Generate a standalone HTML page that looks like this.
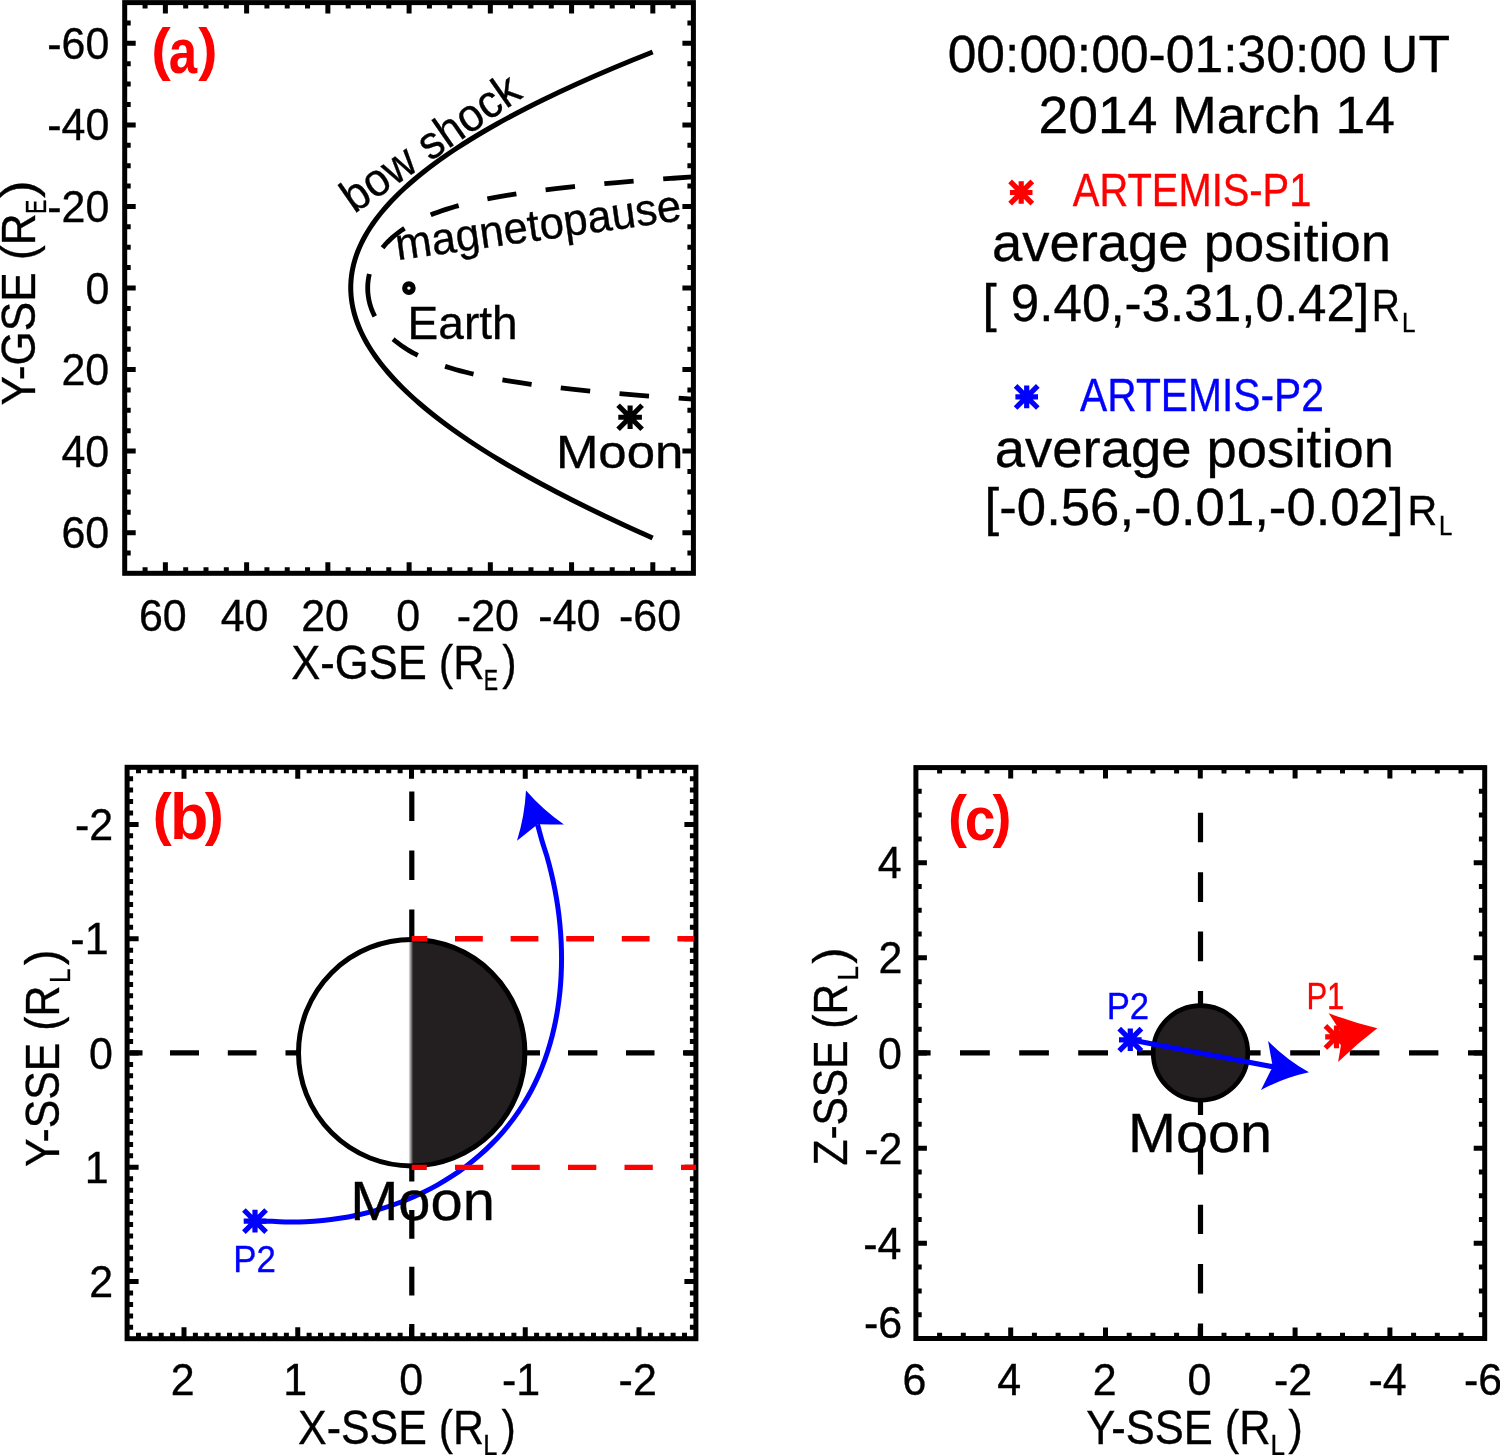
<!DOCTYPE html>
<html lang="en"><head><meta charset="utf-8"><title>ARTEMIS P1/P2 positions, 2014 March 14</title>
<style>
html,body{margin:0;padding:0;background:#fff}
svg{display:block}
text{font-family:"Liberation Sans", "Noto Sans CJK SC", sans-serif;white-space:pre;fill:#000;stroke:#000;stroke-width:0.35px}
text.r{fill:#f00;stroke:#f00}
text.b{fill:#00f;stroke:#00f}
text.rb{fill:#f00;stroke:none}
</style></head>
<body>
<svg width="1500" height="1455" viewBox="0 0 1500 1455">
<rect width="1500" height="1455" fill="#fff"/>
<!-- panel a -->
<path d="M652.65 52C649.33 53.33 639.25 57.33 632.7 60C626.16 62.67 619.72 65.33 613.4 68C607.07 70.67 600.85 73.33 594.74 76C588.63 78.67 582.63 81.33 576.74 84C570.86 86.67 565.08 89.33 559.41 92C553.74 94.67 548.19 97.33 542.74 100C537.3 102.67 531.97 105.33 526.75 108C521.53 110.67 516.42 113.33 511.43 116C506.44 118.67 501.56 121.33 496.8 124C492.03 126.67 487.38 129.33 482.85 132C478.31 134.67 473.9 137.33 469.59 140C465.29 142.67 461.1 145.33 457.03 148C452.95 150.67 449 153.33 445.16 156C441.32 158.67 437.6 161.33 433.99 164C430.38 166.67 426.89 169.33 423.52 172C420.15 174.67 416.89 177.33 413.76 180C410.62 182.67 407.6 185.33 404.69 188C401.79 190.67 399.01 193.33 396.34 196C393.67 198.67 391.12 201.33 388.69 204C386.26 206.67 383.94 209.33 381.74 212C379.55 214.67 377.47 217.33 375.5 220C373.54 222.67 371.7 225.33 369.97 228C368.24 230.67 366.63 233.33 365.14 236C363.65 238.67 362.27 241.33 361.01 244C359.75 246.67 358.61 249.33 357.58 252C356.56 254.67 355.65 257.33 354.85 260C354.06 262.67 353.38 265.33 352.82 268C352.25 270.67 351.8 273.33 351.47 276C351.14 278.67 350.92 281.33 350.81 284C350.71 286.67 350.72 289.33 350.84 292C350.97 294.67 351.2 297.33 351.55 300C351.9 302.67 352.36 305.33 352.93 308C353.51 310.67 354.19 313.33 354.99 316C355.78 318.67 356.69 321.33 357.71 324C358.73 326.67 359.85 329.33 361.09 332C362.32 334.67 363.67 337.33 365.12 340C366.57 342.67 368.13 345.33 369.8 348C371.47 350.67 373.24 353.33 375.12 356C377 358.67 378.99 361.33 381.08 364C383.17 366.67 385.37 369.33 387.67 372C389.96 374.67 392.37 377.33 394.87 380C397.37 382.67 399.98 385.33 402.69 388C405.4 390.67 408.21 393.33 411.11 396C414.02 398.67 417.03 401.33 420.14 404C423.24 406.67 426.45 409.33 429.75 412C433.05 414.67 436.45 417.33 439.95 420C443.44 422.67 447.03 425.33 450.72 428C454.4 430.67 458.18 433.33 462.06 436C465.93 438.67 469.89 441.33 473.95 444C478.01 446.67 482.16 449.33 486.4 452C490.64 454.67 494.97 457.33 499.38 460C503.8 462.67 508.31 465.33 512.9 468C517.5 470.67 522.18 473.33 526.95 476C531.71 478.67 536.57 481.33 541.51 484C546.45 486.67 551.47 489.33 556.58 492C561.68 494.67 566.87 497.33 572.14 500C577.41 502.67 582.77 505.33 588.2 508C593.63 510.67 599.15 513.33 604.74 516C610.33 518.67 616 521.33 621.75 524C627.5 526.67 634.08 529.67 639.23 532C644.38 534.33 650.4 537 652.64 538" stroke="#000" stroke-width="5" fill="none"/>
<path d="M367.71 288C367.71 287.73 367.72 286.93 367.73 286.39C367.74 285.86 367.77 285.32 367.8 284.79C367.82 284.25 367.86 283.71 367.9 283.18C367.95 282.64 368 282.11 368.06 281.57C368.12 281.04 368.18 280.5 368.25 279.97C368.33 279.43 368.41 278.9 368.5 278.37C368.58 277.83 368.68 277.3 368.78 276.76C368.88 276.23 368.99 275.7 369.11 275.16C369.23 274.63 369.35 274.1 369.48 273.57C369.62 273.03 369.76 272.5 369.9 271.97C370.05 271.44 370.21 270.91 370.37 270.38C370.53 269.85 370.7 269.32 370.88 268.79C371.06 268.26 371.24 267.73 371.44 267.2C371.63 266.68 371.83 266.15 372.04 265.62C372.25 265.09 372.47 264.57 372.69 264.04C372.92 263.52 373.15 262.99 373.39 262.47C373.63 261.94 373.88 261.42 374.14 260.89C374.39 260.37 374.66 259.85 374.93 259.33C375.21 258.81 375.49 258.29 375.78 257.77C376.07 257.25 376.37 256.73 376.68 256.21C376.98 255.69 377.3 255.17 377.63 254.66C377.95 254.14 378.28 253.62 378.63 253.11C378.97 252.59 379.32 252.08 379.68 251.57C380.04 251.05 380.41 250.54 380.79 250.03C381.17 249.52 381.56 249.01 381.96 248.5C382.36 247.99 382.77 247.48 383.19 246.97C383.61 246.47 384.03 245.96 384.47 245.45C384.91 244.95 385.36 244.44 385.82 243.94C386.28 243.44 386.75 242.94 387.23 242.43C387.71 241.93 388.2 241.43 388.7 240.93C389.2 240.44 389.72 239.94 390.24 239.44C390.77 238.94 391.31 238.45 391.85 237.95C392.4 237.46 392.96 236.96 393.54 236.47C394.11 235.98 394.7 235.49 395.3 235C395.9 234.51 396.51 234.02 397.14 233.53C397.76 233.04 398.4 232.55 399.06 232.07C399.71 231.58 400.38 231.09 401.06 230.61C401.75 230.13 402.45 229.64 403.16 229.16C403.88 228.68 404.61 228.2 405.35 227.72C406.1 227.24 406.87 226.76 407.65 226.28C408.43 225.8 409.23 225.33 410.05 224.85C410.87 224.37 411.7 223.9 412.56 223.42C413.42 222.95 414.29 222.48 415.19 222C416.09 221.53 417.01 221.06 417.95 220.59C418.9 220.12 419.86 219.64 420.85 219.17C421.84 218.71 422.86 218.24 423.9 217.77C424.94 217.3 426.01 216.83 427.1 216.36C428.2 215.9 429.32 215.43 430.48 214.96C431.64 214.49 432.82 214.03 434.04 213.56C435.26 213.09 436.52 212.63 437.81 212.16C439.1 211.7 440.43 211.23 441.8 210.76C443.17 210.3 444.57 209.83 446.03 209.36C447.48 208.9 448.98 208.43 450.53 207.96C452.08 207.49 453.67 207.02 455.32 206.56C456.98 206.09 458.68 205.62 460.45 205.14C462.22 204.67 464.05 204.2 465.95 203.72C467.85 203.25 469.81 202.77 471.86 202.29C473.91 201.82 476.03 201.34 478.24 200.85C480.46 200.37 482.75 199.89 485.16 199.4C487.57 198.91 490.06 198.42 492.68 197.92C495.31 197.42 498.04 196.93 500.92 196.42C503.8 195.92 506.79 195.41 509.96 194.89C513.14 194.38 516.45 193.86 519.97 193.33C523.49 192.81 527.17 192.28 531.11 191.73C535.04 191.19 539.16 190.64 543.59 190.08C548.03 189.52 552.67 188.96 557.71 188.38C562.75 187.8 568.04 187.21 573.82 186.6C579.6 185.99 585.68 185.37 592.39 184.73C599.11 184.1 606.19 183.44 614.08 182.77C621.97 182.09 630.33 181.39 639.76 180.67C649.19 179.94 661.89 179.03 670.67 178.41C679.46 177.79 688.83 177.2 692.46 176.96" stroke="#000" stroke-width="4.8" fill="none" stroke-dasharray="29.5 29.5" stroke-dashoffset="15.3"/>
<path d="M367.71 288C367.71 288.27 367.72 289.07 367.73 289.61C367.74 290.14 367.77 290.68 367.8 291.21C367.82 291.75 367.86 292.29 367.9 292.82C367.95 293.36 368 293.89 368.06 294.43C368.12 294.96 368.18 295.5 368.25 296.03C368.33 296.57 368.41 297.1 368.5 297.63C368.58 298.17 368.68 298.7 368.78 299.24C368.88 299.77 368.99 300.3 369.11 300.84C369.23 301.37 369.35 301.9 369.48 302.43C369.62 302.97 369.76 303.5 369.9 304.03C370.05 304.56 370.21 305.09 370.37 305.62C370.53 306.15 370.7 306.68 370.88 307.21C371.06 307.74 371.24 308.27 371.44 308.8C371.63 309.32 371.83 309.85 372.04 310.38C372.25 310.91 372.47 311.43 372.69 311.96C372.92 312.48 373.15 313.01 373.39 313.53C373.63 314.06 373.88 314.58 374.14 315.11C374.39 315.63 374.66 316.15 374.93 316.67C375.21 317.19 375.49 317.71 375.78 318.23C376.07 318.75 376.37 319.27 376.68 319.79C376.98 320.31 377.3 320.83 377.63 321.34C377.95 321.86 378.28 322.38 378.63 322.89C378.97 323.41 379.32 323.92 379.68 324.43C380.04 324.95 380.41 325.46 380.79 325.97C381.17 326.48 381.56 326.99 381.96 327.5C382.36 328.01 382.77 328.52 383.19 329.03C383.61 329.53 384.03 330.04 384.47 330.55C384.91 331.05 385.36 331.56 385.82 332.06C386.28 332.56 386.75 333.06 387.23 333.57C387.71 334.07 388.2 334.57 388.7 335.07C389.2 335.56 389.72 336.06 390.24 336.56C390.77 337.06 391.31 337.55 391.85 338.05C392.4 338.54 392.96 339.04 393.54 339.53C394.11 340.02 394.7 340.51 395.3 341C395.9 341.49 396.51 341.98 397.14 342.47C397.76 342.96 398.4 343.45 399.06 343.93C399.71 344.42 400.38 344.91 401.06 345.39C401.75 345.87 402.45 346.36 403.16 346.84C403.88 347.32 404.61 347.8 405.35 348.28C406.1 348.76 406.87 349.24 407.65 349.72C408.43 350.2 409.23 350.67 410.05 351.15C410.87 351.63 411.7 352.1 412.56 352.58C413.42 353.05 414.29 353.52 415.19 354C416.09 354.47 417.01 354.94 417.95 355.41C418.9 355.88 419.86 356.36 420.85 356.83C421.84 357.29 422.86 357.76 423.9 358.23C424.94 358.7 426.01 359.17 427.1 359.64C428.2 360.1 429.32 360.57 430.48 361.04C431.64 361.51 432.82 361.97 434.04 362.44C435.26 362.91 436.52 363.37 437.81 363.84C439.1 364.3 440.43 364.77 441.8 365.24C443.17 365.7 444.57 366.17 446.03 366.64C447.48 367.1 448.98 367.57 450.53 368.04C452.08 368.51 453.67 368.98 455.32 369.44C456.98 369.91 458.68 370.38 460.45 370.86C462.22 371.33 464.05 371.8 465.95 372.28C467.85 372.75 469.81 373.23 471.86 373.71C473.91 374.18 476.03 374.66 478.24 375.15C480.46 375.63 482.75 376.11 485.16 376.6C487.57 377.09 490.06 377.58 492.68 378.08C495.31 378.58 498.04 379.07 500.92 379.58C503.8 380.08 506.79 380.59 509.96 381.11C513.14 381.62 516.45 382.14 519.97 382.67C523.49 383.19 527.17 383.72 531.11 384.27C535.04 384.81 539.16 385.36 543.59 385.92C548.03 386.48 552.67 387.04 557.71 387.62C562.75 388.2 568.04 388.79 573.82 389.4C579.6 390.01 585.68 390.63 592.39 391.27C599.11 391.9 606.19 392.56 614.08 393.23C621.97 393.91 630.33 394.61 639.76 395.33C649.19 396.06 661.89 396.97 670.67 397.59C679.46 398.21 688.83 398.8 692.46 399.04" stroke="#000" stroke-width="4.8" fill="none" stroke-dasharray="29.5 29.5"/>
<circle cx="408.9" cy="288.1" r="4.25" fill="none" stroke="#000" stroke-width="5.1"/>
<path d="M618.3 417.3h23.6M630.1 405.5v23.6M618.1 405.3l24 24M618.1 429.3l24 -24" stroke="#000" stroke-width="5.1" fill="none"/>
<rect x="124.7" y="2.6" width="568.7" height="570.7" fill="none" stroke="#000" stroke-width="5"/>
<path d="M673.13 2.6v6M673.13 573.3v-6M652.82 2.6v11M652.82 573.3v-11M632.51 2.6v6M632.51 573.3v-6M612.2 2.6v6M612.2 573.3v-6M591.89 2.6v6M591.89 573.3v-6M571.58 2.6v11M571.58 573.3v-11M551.27 2.6v6M551.27 573.3v-6M530.96 2.6v6M530.96 573.3v-6M510.65 2.6v6M510.65 573.3v-6M490.34 2.6v11M490.34 573.3v-11M470.03 2.6v6M470.03 573.3v-6M449.72 2.6v6M449.72 573.3v-6M429.41 2.6v6M429.41 573.3v-6M409.1 2.6v11M409.1 573.3v-11M388.79 2.6v6M388.79 573.3v-6M368.48 2.6v6M368.48 573.3v-6M348.17 2.6v6M348.17 573.3v-6M327.86 2.6v11M327.86 573.3v-11M307.55 2.6v6M307.55 573.3v-6M287.24 2.6v6M287.24 573.3v-6M266.93 2.6v6M266.93 573.3v-6M246.62 2.6v11M246.62 573.3v-11M226.31 2.6v6M226.31 573.3v-6M206 2.6v6M206 573.3v-6M185.69 2.6v6M185.69 573.3v-6M165.38 2.6v11M165.38 573.3v-11M145.07 2.6v6M145.07 573.3v-6M124.7 22.93h6M693.4 22.93h-6M124.7 43.32h11M693.4 43.32h-11M124.7 63.71h6M693.4 63.71h-6M124.7 84.1h6M693.4 84.1h-6M124.7 104.49h6M693.4 104.49h-6M124.7 124.88h11M693.4 124.88h-11M124.7 145.27h6M693.4 145.27h-6M124.7 165.66h6M693.4 165.66h-6M124.7 186.05h6M693.4 186.05h-6M124.7 206.44h11M693.4 206.44h-11M124.7 226.83h6M693.4 226.83h-6M124.7 247.22h6M693.4 247.22h-6M124.7 267.61h6M693.4 267.61h-6M124.7 288h11M693.4 288h-11M124.7 308.39h6M693.4 308.39h-6M124.7 328.78h6M693.4 328.78h-6M124.7 349.17h6M693.4 349.17h-6M124.7 369.56h11M693.4 369.56h-11M124.7 389.95h6M693.4 389.95h-6M124.7 410.34h6M693.4 410.34h-6M124.7 430.73h6M693.4 430.73h-6M124.7 451.12h11M693.4 451.12h-11M124.7 471.51h6M693.4 471.51h-6M124.7 491.9h6M693.4 491.9h-6M124.7 512.29h6M693.4 512.29h-6M124.7 532.68h11M693.4 532.68h-11M124.7 553.07h6M693.4 553.07h-6" stroke="#000" stroke-width="5" fill="none"/>
<text transform="translate(47.27,58.92) scale(0.9650,1)" font-size="44.5">-60</text>
<text transform="translate(47.27,140.48) scale(0.9650,1)" font-size="44.5">-40</text>
<text transform="translate(47.27,222.04) scale(0.9650,1)" font-size="44.5">-20</text>
<text transform="translate(85.48,303.6) scale(0.9650,1)" font-size="44.5">0</text>
<text transform="translate(61.44,385.16) scale(0.9650,1)" font-size="44.5">20</text>
<text transform="translate(61.44,466.72) scale(0.9650,1)" font-size="44.5">40</text>
<text transform="translate(61.44,548.28) scale(0.9650,1)" font-size="44.5">60</text>
<text transform="translate(138.94,630.6) scale(0.9650,1)" font-size="44.5">60</text>
<text transform="translate(220.68,630.6) scale(0.9650,1)" font-size="44.5">40</text>
<text transform="translate(301.14,630.6) scale(0.9650,1)" font-size="44.5">20</text>
<text transform="translate(396.18,630.6) scale(0.9650,1)" font-size="44.5">0</text>
<text transform="translate(456.87,630.6) scale(0.9650,1)" font-size="44.5">-20</text>
<text transform="translate(538.37,630.6) scale(0.9650,1)" font-size="44.5">-40</text>
<text transform="translate(619.07,630.6) scale(0.9650,1)" font-size="44.5">-60</text>
<text><tspan x="291.31" y="679.2" font-size="49" textLength="193.46" lengthAdjust="spacingAndGlyphs">X-GSE (R</tspan><tspan x="483.68" y="689.7" font-size="30.4" textLength="14.32" lengthAdjust="spacingAndGlyphs">E</tspan><tspan x="502.27" y="679.2" font-size="49" textLength="14.35" lengthAdjust="spacingAndGlyphs">)</tspan></text>
<text transform="translate(35,404.5) rotate(-90)"><tspan x="-1.1" y="0" font-size="49" textLength="192.23" lengthAdjust="spacingAndGlyphs">Y-GSE (R</tspan><tspan x="190.71" y="10.5" font-size="30.4" textLength="14.07" lengthAdjust="spacingAndGlyphs">E</tspan><tspan x="206.47" y="0" font-size="49" textLength="17.68" lengthAdjust="spacingAndGlyphs">)</tspan></text>
<text font-weight="bold" class="rb"><tspan x="151.37" y="68.64" font-size="57.43" textLength="19.51" lengthAdjust="spacingAndGlyphs">(</tspan><tspan x="168.77" y="73.07" font-size="62.55" textLength="28.33" lengthAdjust="spacingAndGlyphs">a</tspan><tspan x="198.21" y="68.64" font-size="57.43" textLength="19.27" lengthAdjust="spacingAndGlyphs">)</tspan></text>
<text transform="translate(356.7,212.5) rotate(-34.7) scale(0.9489,1) translate(-2.99,0)" font-size="46">bow shock</text>
<text transform="translate(400.4,259.8) rotate(-8) scale(0.9678,1) translate(-2.93,0)" font-size="45">magnetopause</text>
<text transform="translate(407.62,339.4) scale(0.9905,1)" font-size="46.5">Earth</text>
<text transform="translate(555.92,467.9) scale(1.0842,1)" font-size="47">Moon</text>
<!-- legend -->
<text transform="translate(947.63,72) scale(0.9836,1)" font-size="52.5">00:00:00-01:30:00 UT</text>
<text transform="translate(1038.53,132.7) scale(1.0180,1)" font-size="52.5">2014 March 14</text>
<path d="M1009.9 192.5h22.6M1021.2 181.2v22.6M1010.1 181.4l22.2 22.2M1010.1 203.6l22.2 -22.2" stroke="#ff0000" stroke-width="5.2" fill="none"/>
<text transform="translate(1072.8,205.9) scale(0.8486,1)" font-size="47" class="r">ARTEMIS-P1</text>
<text transform="translate(992.05,260.6) scale(1.0071,1)" font-size="54">average position</text>
<text><tspan x="982.42" y="321" font-size="52.5" textLength="386.82" lengthAdjust="spacingAndGlyphs">[ 9.40,-3.31,0.42]</tspan><tspan x="1371.68" y="321" font-size="44" textLength="28.15" lengthAdjust="spacingAndGlyphs">R</tspan><tspan x="1401.96" y="332.3" font-size="27.5" textLength="13.5" lengthAdjust="spacingAndGlyphs">L</tspan></text>
<path d="M1015.4 396.9h22.6M1026.7 385.6v22.6M1015.6 385.8l22.2 22.2M1015.6 408l22.2 -22.2" stroke="#0000ff" stroke-width="5.2" fill="none"/>
<text transform="translate(1080.1,410.6) scale(0.8669,1)" font-size="47" class="b">ARTEMIS-P2</text>
<text transform="translate(994.85,466.7) scale(1.0076,1)" font-size="54">average position</text>
<text><tspan x="984.61" y="525" font-size="52.5" textLength="419.04" lengthAdjust="spacingAndGlyphs">[-0.56,-0.01,-0.02]</tspan><tspan x="1407.41" y="525" font-size="43" textLength="29.74" lengthAdjust="spacingAndGlyphs">R</tspan><tspan x="1439.08" y="535.3" font-size="27.5" textLength="13.37" lengthAdjust="spacingAndGlyphs">L</tspan></text>
<!-- panel b -->
<path d="M411.8 791.6L411.8 820.9M411.8 850.4L411.8 880M411.8 909.4L411.8 940M411.8 1165L411.8 1181.6M411.8 1210.1L411.8 1238.7M411.8 1266.8L411.8 1295.4M411.8 1323.9L411.8 1338.7" stroke="#000" stroke-width="5.2" fill="none"/>
<path d="M130 1052.8L142.5 1052.8M170 1052.8L199 1052.8M227.8 1052.8L256.5 1052.8M285.5 1052.8L300 1052.8M525 1052.8L540 1052.8M568 1052.8L597.4 1052.8M626 1052.8L654.5 1052.8M683 1052.8L695.9 1052.8" stroke="#000" stroke-width="5.2" fill="none"/>
<defs><linearGradient id="term" gradientUnits="userSpaceOnUse" x1="408.4" y1="0" x2="413.2" y2="0"><stop offset="0" stop-color="#fff"/><stop offset="1" stop-color="#231f20"/></linearGradient></defs>
<circle cx="411.7" cy="1052.7" r="113.2" fill="url(#term)" stroke="#000" stroke-width="5"/>
<path d="M255 1221.1C257.83 1221.14 266.37 1221.16 271.99 1221.32C277.61 1221.47 283.12 1221.95 288.73 1222.03C294.34 1222.1 299.99 1222.02 305.65 1221.77C311.3 1221.52 316.99 1221.11 322.67 1220.54C328.34 1219.97 334.03 1219.23 339.69 1218.34C345.36 1217.45 351.02 1216.4 356.64 1215.19C362.27 1213.97 367.88 1212.6 373.43 1211.07C378.98 1209.54 384.51 1207.85 389.97 1206C395.42 1204.15 400.84 1202.14 406.17 1199.97C411.49 1197.8 416.77 1195.48 421.94 1193C427.12 1190.51 432.22 1187.87 437.21 1185.07C442.2 1182.28 447.1 1179.32 451.88 1176.21C456.65 1173.1 461.33 1169.82 465.86 1166.41C470.4 1162.99 474.82 1159.41 479.09 1155.7C483.36 1151.99 487.51 1148.13 491.49 1144.14C495.47 1140.15 499.32 1136.02 502.99 1131.76C506.67 1127.51 510.19 1123.13 513.53 1118.63C516.86 1114.13 520.04 1109.5 523.02 1104.77C526 1100.04 528.8 1095.19 531.42 1090.25C534.03 1085.31 536.46 1080.26 538.72 1075.13C540.97 1070 543.05 1064.77 544.95 1059.48C546.85 1054.18 548.58 1048.8 550.14 1043.37C551.71 1037.93 553.1 1032.42 554.33 1026.87C555.56 1021.32 556.62 1015.71 557.53 1010.06C558.44 1004.42 559.19 998.73 559.78 993.02C560.38 987.31 560.82 981.56 561.11 975.8C561.4 970.05 561.54 964.27 561.55 958.49C561.55 952.72 561.4 946.93 561.11 941.16C560.83 935.39 560.4 929.62 559.85 923.88C559.29 918.13 558.59 912.4 557.77 906.71C556.95 901.03 556 895.36 554.92 889.75C553.85 884.13 552.64 878.56 551.32 873.05C550 867.54 548.55 862.07 547 856.68C545.44 851.3 543.57 846.13 541.98 840.73C540.4 835.34 538.25 827.04 537.5 824.3" stroke="#0000ff" stroke-width="5" fill="none"/>
<path d="M526 790.6Q542.87 809.98 564 824.6Q550.85 824.45 537.7 824.3Q527.35 832.55 517 840.8Q524.65 816.26 526 790.6Z" fill="#0000ff"/>
<path d="M243.7 1221.1h22.6M255 1209.8v22.6M243.9 1210l22.2 22.2M243.9 1232.2l22.2 -22.2" stroke="#0000ff" stroke-width="5.2" fill="none"/>
<rect x="127.1" y="767.3" width="568.8" height="571.4" fill="none" stroke="#000" stroke-width="5"/>
<path d="M684.5 767.3v6M684.5 1338.7v-6M673.12 767.3v6M673.12 1338.7v-6M661.75 767.3v6M661.75 1338.7v-6M650.38 767.3v6M650.38 1338.7v-6M639 767.3v11.5M639 1338.7v-11.5M627.62 767.3v6M627.62 1338.7v-6M616.25 767.3v6M616.25 1338.7v-6M604.88 767.3v6M604.88 1338.7v-6M593.5 767.3v6M593.5 1338.7v-6M582.12 767.3v6M582.12 1338.7v-6M570.75 767.3v6M570.75 1338.7v-6M559.38 767.3v6M559.38 1338.7v-6M548 767.3v6M548 1338.7v-6M536.62 767.3v6M536.62 1338.7v-6M525.25 767.3v11.5M525.25 1338.7v-11.5M513.88 767.3v6M513.88 1338.7v-6M502.5 767.3v6M502.5 1338.7v-6M491.12 767.3v6M491.12 1338.7v-6M479.75 767.3v6M479.75 1338.7v-6M468.38 767.3v6M468.38 1338.7v-6M457 767.3v6M457 1338.7v-6M445.62 767.3v6M445.62 1338.7v-6M434.25 767.3v6M434.25 1338.7v-6M422.88 767.3v6M422.88 1338.7v-6M411.5 767.3v11.5M411.5 1338.7v-11.5M400.12 767.3v6M400.12 1338.7v-6M388.75 767.3v6M388.75 1338.7v-6M377.38 767.3v6M377.38 1338.7v-6M366 767.3v6M366 1338.7v-6M354.62 767.3v6M354.62 1338.7v-6M343.25 767.3v6M343.25 1338.7v-6M331.88 767.3v6M331.88 1338.7v-6M320.5 767.3v6M320.5 1338.7v-6M309.12 767.3v6M309.12 1338.7v-6M297.75 767.3v11.5M297.75 1338.7v-11.5M286.38 767.3v6M286.38 1338.7v-6M275 767.3v6M275 1338.7v-6M263.62 767.3v6M263.62 1338.7v-6M252.25 767.3v6M252.25 1338.7v-6M240.88 767.3v6M240.88 1338.7v-6M229.5 767.3v6M229.5 1338.7v-6M218.12 767.3v6M218.12 1338.7v-6M206.75 767.3v6M206.75 1338.7v-6M195.38 767.3v6M195.38 1338.7v-6M184 767.3v11.5M184 1338.7v-11.5M172.62 767.3v6M172.62 1338.7v-6M161.25 767.3v6M161.25 1338.7v-6M149.88 767.3v6M149.88 1338.7v-6M138.5 767.3v6M138.5 1338.7v-6M127.1 778.68h6M695.9 778.68h-6M127.1 790.11h6M695.9 790.11h-6M127.1 801.54h6M695.9 801.54h-6M127.1 812.97h6M695.9 812.97h-6M127.1 824.4h11.5M695.9 824.4h-11.5M127.1 835.83h6M695.9 835.83h-6M127.1 847.26h6M695.9 847.26h-6M127.1 858.69h6M695.9 858.69h-6M127.1 870.12h6M695.9 870.12h-6M127.1 881.55h6M695.9 881.55h-6M127.1 892.98h6M695.9 892.98h-6M127.1 904.41h6M695.9 904.41h-6M127.1 915.84h6M695.9 915.84h-6M127.1 927.27h6M695.9 927.27h-6M127.1 938.7h11.5M695.9 938.7h-11.5M127.1 950.13h6M695.9 950.13h-6M127.1 961.56h6M695.9 961.56h-6M127.1 972.99h6M695.9 972.99h-6M127.1 984.42h6M695.9 984.42h-6M127.1 995.85h6M695.9 995.85h-6M127.1 1007.28h6M695.9 1007.28h-6M127.1 1018.71h6M695.9 1018.71h-6M127.1 1030.14h6M695.9 1030.14h-6M127.1 1041.57h6M695.9 1041.57h-6M127.1 1053h11.5M695.9 1053h-11.5M127.1 1064.43h6M695.9 1064.43h-6M127.1 1075.86h6M695.9 1075.86h-6M127.1 1087.29h6M695.9 1087.29h-6M127.1 1098.72h6M695.9 1098.72h-6M127.1 1110.15h6M695.9 1110.15h-6M127.1 1121.58h6M695.9 1121.58h-6M127.1 1133.01h6M695.9 1133.01h-6M127.1 1144.44h6M695.9 1144.44h-6M127.1 1155.87h6M695.9 1155.87h-6M127.1 1167.3h11.5M695.9 1167.3h-11.5M127.1 1178.73h6M695.9 1178.73h-6M127.1 1190.16h6M695.9 1190.16h-6M127.1 1201.59h6M695.9 1201.59h-6M127.1 1213.02h6M695.9 1213.02h-6M127.1 1224.45h6M695.9 1224.45h-6M127.1 1235.88h6M695.9 1235.88h-6M127.1 1247.31h6M695.9 1247.31h-6M127.1 1258.74h6M695.9 1258.74h-6M127.1 1270.17h6M695.9 1270.17h-6M127.1 1281.6h11.5M695.9 1281.6h-11.5M127.1 1293.03h6M695.9 1293.03h-6M127.1 1304.46h6M695.9 1304.46h-6M127.1 1315.89h6M695.9 1315.89h-6M127.1 1327.32h6M695.9 1327.32h-6" stroke="#000" stroke-width="5" fill="none"/>
<path d="M411.7 938.7H694.2" stroke="#ff0000" stroke-width="5.4" stroke-dasharray="27.8 27.8" stroke-dashoffset="12.3" fill="none"/>
<path d="M411.7 1167.4H696" stroke="#ff0000" stroke-width="5.4" stroke-dasharray="28.3 28.2" stroke-dashoffset="13.2" fill="none"/>
<text transform="translate(74.93,840) scale(0.9650,1)" font-size="44.5">-2</text>
<text transform="translate(70.33,954.3) scale(0.9650,1)" font-size="44.5">-1</text>
<text transform="translate(88.88,1068.6) scale(0.9650,1)" font-size="44.5">0</text>
<text transform="translate(84.71,1182.9) scale(0.9650,1)" font-size="44.5">1</text>
<text transform="translate(89.31,1297.2) scale(0.9650,1)" font-size="44.5">2</text>
<text transform="translate(170.68,1395.3) scale(0.9650,1)" font-size="44.5">2</text>
<text transform="translate(283.35,1395.3) scale(0.9650,1)" font-size="44.5">1</text>
<text transform="translate(399.18,1395.3) scale(0.9650,1)" font-size="44.5">0</text>
<text transform="translate(502,1395.3) scale(0.9650,1)" font-size="44.5">-1</text>
<text transform="translate(618.6,1395.3) scale(0.9650,1)" font-size="44.5">-2</text>
<text><tspan x="298.03" y="1444.1" font-size="49" textLength="186.08" lengthAdjust="spacingAndGlyphs">X-SSE (R</tspan><tspan x="483.37" y="1454.6" font-size="30.4" textLength="14.12" lengthAdjust="spacingAndGlyphs">L</tspan><tspan x="501.47" y="1444.1" font-size="49" textLength="14.35" lengthAdjust="spacingAndGlyphs">)</tspan></text>
<text transform="translate(58.8,1166) rotate(-90)"><tspan x="-1.07" y="0" font-size="49" textLength="181.5" lengthAdjust="spacingAndGlyphs">Y-SSE (R</tspan><tspan x="183.03" y="10.7" font-size="30.4" textLength="14.37" lengthAdjust="spacingAndGlyphs">L</tspan><tspan x="200.83" y="0" font-size="49" textLength="15.76" lengthAdjust="spacingAndGlyphs">)</tspan></text>
<text font-weight="bold" class="rb"><tspan x="152.84" y="834.33" font-size="57.01" textLength="19.03" lengthAdjust="spacingAndGlyphs">(</tspan><tspan x="169.92" y="839.05" font-size="64.9" textLength="38.35" lengthAdjust="spacingAndGlyphs">b</tspan><tspan x="204.71" y="834.33" font-size="57.01" textLength="19.03" lengthAdjust="spacingAndGlyphs">)</tspan></text>
<text transform="translate(350.17,1220.3) scale(1.0421,1)" font-size="55.5">Moon</text>
<text transform="translate(233.21,1272.4) scale(0.9303,1)" font-size="37.5" class="b">P2</text>
<!-- panel c -->
<path d="M1200.5 812.7L1200.5 842.3M1200.5 872.3L1200.5 901.9M1200.5 931.5L1200.5 961.3M1200.5 991.1L1200.5 1010M1200.5 1098L1200.5 1115M1200.5 1145.2L1200.5 1174.6M1200.5 1204.8L1200.5 1234M1200.5 1264L1200.5 1293.4M1200.5 1323.6L1200.5 1338.5" stroke="#000" stroke-width="5.2" fill="none"/>
<path d="M918 1052.9L930.6 1052.9M960 1052.9L989.8 1052.9M1019.2 1052.9L1048.9 1052.9M1078.2 1052.9L1108 1052.9M1137 1052.9L1155 1052.9M1245 1052.9L1260.6 1052.9M1290.2 1052.9L1320 1052.9M1349.8 1052.9L1379.4 1052.9M1409 1052.9L1438.4 1052.9M1468 1052.9L1484.7 1052.9" stroke="#000" stroke-width="5.2" fill="none"/>
<circle cx="1200.5" cy="1052.9" r="47.3" fill="#231f20" stroke="#000" stroke-width="4.6"/>
<path d="M1130.3 1039.8L1274 1066.9" stroke="#0000ff" stroke-width="5.2" fill="none"/>
<path d="M1309 1072.3Q1286.36 1059.51 1268.1 1041Q1270.4 1053.85 1272.7 1066.7Q1266.85 1078.35 1261 1090Q1283.75 1077.77 1309 1072.3Z" fill="#0000ff"/>
<path d="M1119 1039.8h22.6M1130.3 1028.5v22.6M1119.2 1028.7l22.2 22.2M1119.2 1050.9l22.2 -22.2" stroke="#0000ff" stroke-width="5.2" fill="none"/>
<path d="M1325.2 1036.9h22.6M1336.5 1025.6v22.6M1325.4 1025.8l22.2 22.2M1325.4 1048l22.2 -22.2" stroke="#ff0000" stroke-width="5.2" fill="none"/>
<path d="M1377.3 1028.3Q1352.53 1022.28 1328.7 1013.2Q1335.7 1024.1 1342.7 1035Q1340.4 1048.5 1338.1 1062Q1356.66 1043.94 1377.3 1028.3Z" fill="#ff0000"/>
<rect x="915.9" y="767.6" width="568.8" height="570.9" fill="none" stroke="#000" stroke-width="5"/>
<path d="M1461 767.6v5.8M1461 1338.5v-5.8M1437.3 767.6v5.8M1437.3 1338.5v-5.8M1413.6 767.6v5.8M1413.6 1338.5v-5.8M1389.9 767.6v11M1389.9 1338.5v-11M1366.2 767.6v5.8M1366.2 1338.5v-5.8M1342.5 767.6v5.8M1342.5 1338.5v-5.8M1318.8 767.6v5.8M1318.8 1338.5v-5.8M1295.1 767.6v11M1295.1 1338.5v-11M1271.4 767.6v5.8M1271.4 1338.5v-5.8M1247.7 767.6v5.8M1247.7 1338.5v-5.8M1224 767.6v5.8M1224 1338.5v-5.8M1200.3 767.6v11M1200.3 1338.5v-11M1176.6 767.6v5.8M1176.6 1338.5v-5.8M1152.9 767.6v5.8M1152.9 1338.5v-5.8M1129.2 767.6v5.8M1129.2 1338.5v-5.8M1105.5 767.6v11M1105.5 1338.5v-11M1081.8 767.6v5.8M1081.8 1338.5v-5.8M1058.1 767.6v5.8M1058.1 1338.5v-5.8M1034.4 767.6v5.8M1034.4 1338.5v-5.8M1010.7 767.6v11M1010.7 1338.5v-11M987 767.6v5.8M987 1338.5v-5.8M963.3 767.6v5.8M963.3 1338.5v-5.8M939.6 767.6v5.8M939.6 1338.5v-5.8M915.9 1314.66h5.8M1484.7 1314.66h-5.8M915.9 1290.88h5.8M1484.7 1290.88h-5.8M915.9 1267.09h5.8M1484.7 1267.09h-5.8M915.9 1243.3h11M1484.7 1243.3h-11M915.9 1219.51h5.8M1484.7 1219.51h-5.8M915.9 1195.72h5.8M1484.7 1195.72h-5.8M915.9 1171.94h5.8M1484.7 1171.94h-5.8M915.9 1148.15h11M1484.7 1148.15h-11M915.9 1124.36h5.8M1484.7 1124.36h-5.8M915.9 1100.58h5.8M1484.7 1100.58h-5.8M915.9 1076.79h5.8M1484.7 1076.79h-5.8M915.9 1053h11M1484.7 1053h-11M915.9 1029.21h5.8M1484.7 1029.21h-5.8M915.9 1005.42h5.8M1484.7 1005.42h-5.8M915.9 981.64h5.8M1484.7 981.64h-5.8M915.9 957.85h11M1484.7 957.85h-11M915.9 934.06h5.8M1484.7 934.06h-5.8M915.9 910.27h5.8M1484.7 910.27h-5.8M915.9 886.49h5.8M1484.7 886.49h-5.8M915.9 862.7h11M1484.7 862.7h-11M915.9 838.91h5.8M1484.7 838.91h-5.8M915.9 815.12h5.8M1484.7 815.12h-5.8M915.9 791.34h5.8M1484.7 791.34h-5.8" stroke="#000" stroke-width="5" fill="none"/>
<text transform="translate(877.66,878.3) scale(0.9650,1)" font-size="44.5">4</text>
<text transform="translate(878.51,973.45) scale(0.9650,1)" font-size="44.5">2</text>
<text transform="translate(878.08,1068.6) scale(0.9650,1)" font-size="44.5">0</text>
<text transform="translate(864.13,1163.75) scale(0.9650,1)" font-size="44.5">-2</text>
<text transform="translate(863.27,1258.9) scale(0.9650,1)" font-size="44.5">-4</text>
<text transform="translate(863.91,1338.4) scale(0.9650,1)" font-size="44.5">-6</text>
<text transform="translate(902.38,1395.3) scale(0.9650,1)" font-size="44.5">6</text>
<text transform="translate(997.19,1395.3) scale(0.9650,1)" font-size="44.5">4</text>
<text transform="translate(1092.68,1395.3) scale(0.9650,1)" font-size="44.5">2</text>
<text transform="translate(1187.48,1395.3) scale(0.9650,1)" font-size="44.5">0</text>
<text transform="translate(1274,1395.3) scale(0.9650,1)" font-size="44.5">-2</text>
<text transform="translate(1368.57,1395.3) scale(0.9650,1)" font-size="44.5">-4</text>
<text transform="translate(1463.89,1395.3) scale(0.9650,1)" font-size="44.5">-6</text>
<text><tspan x="1086.21" y="1444.1" font-size="49" textLength="184.56" lengthAdjust="spacingAndGlyphs">Y-SSE (R</tspan><tspan x="1270.41" y="1454.6" font-size="30.4" textLength="14.5" lengthAdjust="spacingAndGlyphs">L</tspan><tspan x="1288.36" y="1444.1" font-size="49" textLength="14.6" lengthAdjust="spacingAndGlyphs">)</tspan></text>
<text transform="translate(847.4,1164.3) rotate(-90)"><tspan x="-1.27" y="0" font-size="49" textLength="181.71" lengthAdjust="spacingAndGlyphs">Z-SSE (R</tspan><tspan x="183.73" y="10.3" font-size="30.4" textLength="14.37" lengthAdjust="spacingAndGlyphs">L</tspan><tspan x="200.61" y="0" font-size="49" textLength="16.27" lengthAdjust="spacingAndGlyphs">)</tspan></text>
<text font-weight="bold" class="rb"><tspan x="948.04" y="835.64" font-size="57.43" textLength="19.03" lengthAdjust="spacingAndGlyphs">(</tspan><tspan x="964.69" y="840.18" font-size="62" textLength="30.73" lengthAdjust="spacingAndGlyphs">c</tspan><tspan x="992.61" y="835.64" font-size="57.43" textLength="19.03" lengthAdjust="spacingAndGlyphs">)</tspan></text>
<text transform="translate(1128,1151.7) scale(1.0367,1)" font-size="55.5">Moon</text>
<text transform="translate(1106.72,1019.4) scale(0.9254,1)" font-size="37.5" class="b">P2</text>
<text transform="translate(1306.42,1009.4) scale(0.8280,1)" font-size="37.5" class="r">P1</text>
</svg>
</body></html>
